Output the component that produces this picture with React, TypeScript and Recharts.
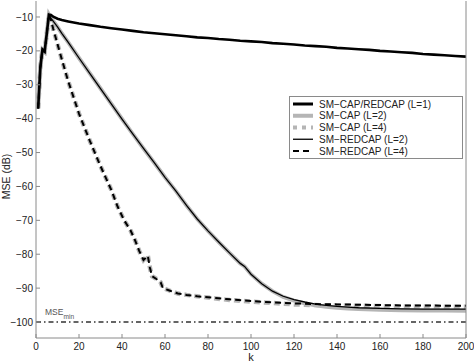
import React from 'react';
import { LineChart, Line, XAxis, YAxis, ReferenceLine, Legend } from 'recharts';

// ---------- data ----------
const kL1 = [1, 2, 3, 4, 5, 6, 7, 8, 10, 12, 15, 20, 25, 30, 35, 40, 45, 50, 55, 60, 65, 70, 75, 80, 85, 90, 95, 100, 105, 110, 115, 120, 125, 130, 135, 140, 145, 150, 155, 160, 165, 170, 175, 180, 185, 190, 195, 200];
const mseL1 = [-37, -25, -19.6, -20.2, -15, -9.3, -9.4, -9.9, -10.5, -10.9, -11.3, -11.9, -12.4, -12.9, -13.3, -13.7, -14.1, -14.5, -14.8, -15.1, -15.4, -15.7, -16.0, -16.2, -16.5, -16.7, -17.0, -17.2, -17.4, -17.7, -17.9, -18.1, -18.4, -18.6, -18.8, -19.1, -19.3, -19.5, -19.7, -20.0, -20.2, -20.4, -20.6, -20.9, -21.1, -21.3, -21.5, -21.7];

const kL2 = [1, 2, 3, 4, 5, 6, 7, 8, 10, 12, 15, 20, 25, 30, 35, 40, 45, 50, 55, 60, 65, 70, 75, 80, 85, 90, 95, 97, 100, 105, 110, 115, 120, 125, 130, 135, 140, 145, 150, 160, 170, 180, 190, 200];
const redcapL2 = [-37, -25, -19.6, -20.2, -15, -9.3, -10.4, -11.2, -12.9, -14.8, -17.5, -22.1, -26.6, -31.1, -35.6, -40.1, -44.5, -48.8, -53.0, -57.3, -61.3, -65.6, -69.6, -73.1, -76.4, -79.6, -82.7, -83.6, -85.9, -88.7, -90.9, -92.4, -93.4, -94.1, -94.7, -95.1, -95.4, -95.6, -95.8, -96.0, -96.1, -96.2, -96.2, -96.2];
const capL2 = [-37, -25, -19.6, -20.2, -15, -9.3, -10.4, -11.2, -12.9, -14.8, -17.5, -22.1, -26.6, -31.1, -35.6, -40.1, -44.5, -48.8, -53.0, -57.3, -61.3, -65.6, -69.6, -73.1, -76.4, -79.6, -82.7, -83.6, -85.9, -88.7, -90.9, -92.6, -93.7, -94.5, -95.1, -95.5, -95.8, -96.0, -96.2, -96.4, -96.5, -96.6, -96.6, -96.7];

const kL4 = [1, 2, 3, 4, 5, 6, 7, 8, 10, 12, 15, 20, 25, 30, 35, 38, 41, 44, 46, 48, 50, 52, 53, 54, 56, 58, 59, 62, 66, 70, 75, 80, 90, 100, 110, 120, 130, 140, 150, 160, 170, 180, 190, 200];
const redcapL4 = [-37, -25, -19.6, -20.2, -15, -9.3, -11, -13.5, -18, -22.5, -29, -38.5, -46.5, -54, -61, -66, -70, -73, -75.8, -79, -81.7, -80.5, -84, -86.5, -87.3, -88.3, -90, -90.7, -91.6, -92.0, -92.4, -92.7, -93.3, -93.8, -94.2, -94.5, -94.7, -94.8, -94.9, -95.0, -95.1, -95.1, -95.2, -95.2];
const capL4 = [-37, -25, -19.6, -20.2, -15, -9.3, -11, -13.5, -18, -22.5, -29, -38.5, -46.5, -54, -61, -66, -70, -73, -75.8, -79, -81.7, -80.3, -84, -86.5, -87.3, -88.3, -90, -90.7, -91.6, -92.0, -92.4, -92.8, -93.5, -94.0, -94.4, -94.8, -95.0, -95.1, -95.2, -95.3, -95.4, -95.4, -95.5, -95.5];

const mseMin = -100;
const xTicks = [0, 20, 40, 60, 80, 100, 120, 140, 160, 180, 200];
const yTicks = [-100, -90, -80, -70, -60, -50, -40, -30, -20, -10];
const legendLabels = [
  'SM\u2212CAP/REDCAP (L=1)',
  'SM\u2212CAP (L=2)',
  'SM\u2212CAP (L=4)',
  'SM\u2212REDCAP (L=2)',
  'SM\u2212REDCAP (L=4)',
];

const toData = (ks: number[], vs: number[]) => ks.map((k, i) => ({ k, v: vs[i] }));
const dL1 = toData(kL1, mseL1);
const dRedL2 = toData(kL2, redcapL2);
const dCapL2 = toData(kL2, capL2);
const dRedL4 = toData(kL4, redcapL4);
const dCapL4 = toData(kL4, capL4);

// ---------- styles ----------
const FONT = "'Liberation Sans', Arial, Helvetica, sans-serif";
const AXIS = '#8a8a8a';
const TEXT = '#222';
const GRAY = '#b5b5b5';

const legendStyles = [
  { stroke: '#000', strokeWidth: 3, dash: undefined },
  { stroke: GRAY, strokeWidth: 4, dash: undefined },
  { stroke: GRAY, strokeWidth: 4, dash: '4 5' },
  { stroke: '#000', strokeWidth: 1.3, dash: undefined },
  { stroke: '#000', strokeWidth: 2, dash: '6 4' },
];

const renderLegend = () => (
  <svg width={174} height={63} style={{ display: 'block' }}>
    <rect x={0.5} y={0.5} width={173} height={62} fill="#fff" stroke={AXIS} strokeWidth={1} />
    {legendLabels.map((lab, i) => {
      const y = 8 + i * 11.75;
      const s = legendStyles[i];
      return (
        <g key={lab}>
          <line x1={4} x2={24} y1={y} y2={y} stroke={s.stroke} strokeWidth={s.strokeWidth} strokeDasharray={s.dash} />
          <text x={30} y={y} dy="0.36em" fontSize={10} fill={TEXT} fontFamily={FONT}>{lab}</text>
        </g>
      );
    })}
  </svg>
);

const fmtY = (v: number) => String(v).replace('-', '\u2212');

const renderYLabel = (props: any) => {
  const vb = props.viewBox || { x: 0, y: 0, height: 338 };
  const cx = vb.x + 9.5;
  const cy = vb.y + vb.height / 2 + 7;
  return (
    <text x={cx} y={cy} transform={`rotate(-90 ${cx} ${cy})`} textAnchor="middle" fontSize={10.5} fill={TEXT} fontFamily={FONT}>
      MSE (dB)
    </text>
  );
};

const renderXLabel = (props: any) => {
  const vb = props.viewBox || { x: 36, y: 338, width: 430, height: 24 };
  return (
    <text x={vb.x + vb.width / 2} y={vb.y + vb.height - 1} textAnchor="middle" fontSize={11} fill={TEXT} fontFamily={FONT}>
      k
    </text>
  );
};

const renderMinLabel = (props: any) => {
  const vb = props.viewBox || { x: 36, y: 322 };
  return (
    <text x={vb.x + 9} y={vb.y - 7} fontSize={8.5} fill="#555" fontFamily={FONT}>
      MSE
      <tspan fontSize={6.6} dy={3.5}>min</tspan>
    </text>
  );
};

export default function App() {
  return (
    <div style={{ position: 'absolute', left: 0, top: 0, width: 474, height: 362, background: '#fff' }}>
      <LineChart
        width={474}
        height={362}
        margin={{ top: 0, right: 7, bottom: 0, left: 0 }}
        style={{ fontFamily: FONT }}
      >
        <XAxis
          xAxisId="b"
          dataKey="k"
          type="number"
          domain={[0, 200]}
          ticks={xTicks}
          allowDataOverflow
          height={24}
          tickSize={-4}
          tickMargin={9}
          axisLine={{ stroke: AXIS }}
          tickLine={{ stroke: AXIS }}
          tick={{ fontSize: 10, fill: TEXT, fontFamily: FONT }}
          interval={0}
          label={renderXLabel}
        />
        <XAxis
          xAxisId="t"
          orientation="top"
          dataKey="k"
          type="number"
          domain={[0, 200]}
          ticks={xTicks}
          allowDataOverflow
          height={1}
          tickSize={-4}
          axisLine={false}
          tickLine={{ stroke: AXIS }}
          tick={false}
        />
        <YAxis
          yAxisId="l"
          type="number"
          domain={[-104.72, -5.28]}
          ticks={yTicks}
          allowDataOverflow
          width={36}
          tickSize={-4}
          tickMargin={7}
          axisLine={{ stroke: AXIS }}
          tickLine={{ stroke: AXIS }}
          tick={{ fontSize: 10, fill: TEXT, fontFamily: FONT }}
          tickFormatter={fmtY}
          interval={0}
          label={renderYLabel}
        />
        <YAxis
          yAxisId="r"
          orientation="right"
          type="number"
          domain={[-104.72, -5.28]}
          ticks={yTicks}
          allowDataOverflow
          width={1}
          tickSize={-4}
          axisLine={{ stroke: AXIS }}
          tickLine={{ stroke: AXIS }}
          tick={false}
        />
        <ReferenceLine
          xAxisId="b"
          yAxisId="l"
          y={mseMin}
          stroke="#333"
          strokeWidth={1.3}
          strokeDasharray="5 3 1.5 3"
          label={renderMinLabel}
        />
        <Line xAxisId="b" yAxisId="l" data={dCapL4} dataKey="v" stroke={GRAY} strokeWidth={4.5} strokeDasharray="6 4" dot={false} isAnimationActive={false} />
        <Line xAxisId="b" yAxisId="l" data={dCapL2} dataKey="v" stroke={GRAY} strokeWidth={4} dot={false} isAnimationActive={false} />
        <Line xAxisId="b" yAxisId="l" data={dRedL4} dataKey="v" stroke="#000" strokeWidth={2} strokeDasharray="6 4" dot={false} isAnimationActive={false} />
        <Line xAxisId="b" yAxisId="l" data={dRedL2} dataKey="v" stroke="#000" strokeWidth={1.3} dot={false} isAnimationActive={false} />
        <Line xAxisId="b" yAxisId="l" data={dL1} dataKey="v" stroke="#000" strokeWidth={2.6} dot={false} isAnimationActive={false} />
        <Legend
          layout="vertical"
          align="center"
          verticalAlign="middle"
          content={renderLegend}
          wrapperStyle={{ left: 289, top: 96, width: 174, height: 63 }}
        />
      </LineChart>
    </div>
  );
}
